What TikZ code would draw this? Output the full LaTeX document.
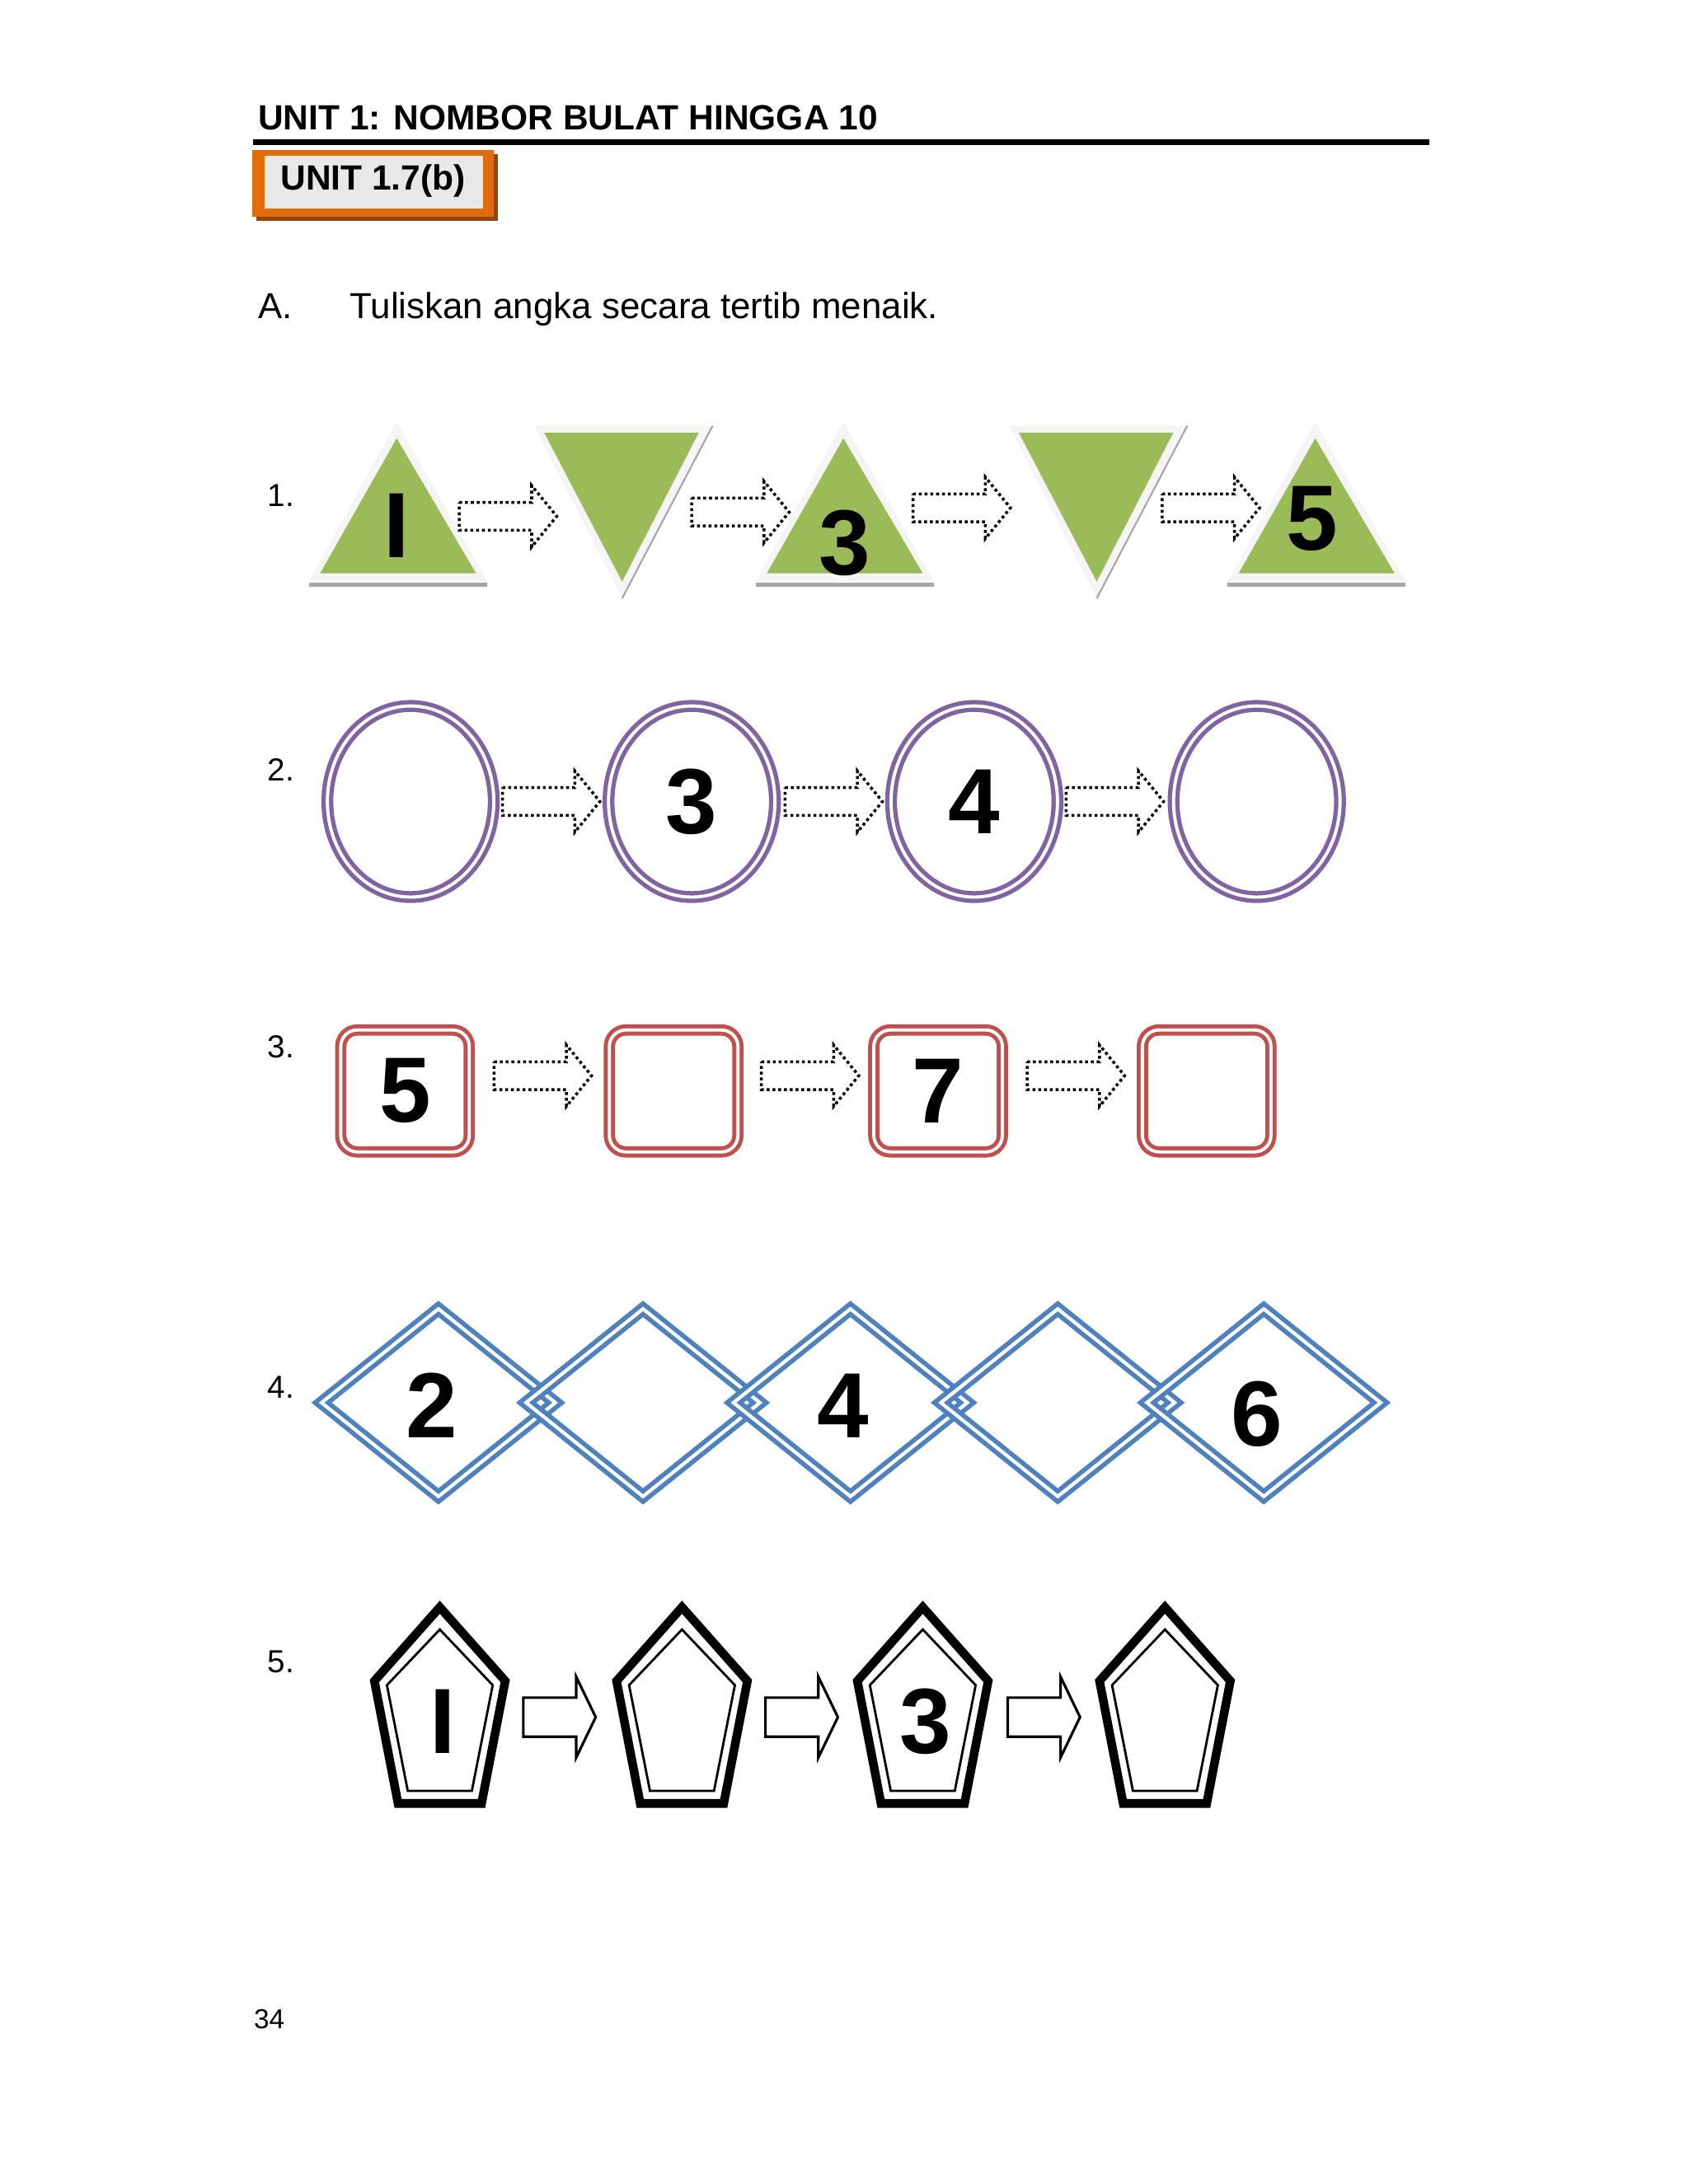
\documentclass[tikz,border=0pt]{standalone}
\usepackage{fontspec}
\setmainfont{Liberation Sans}
\usetikzlibrary{shapes.geometric, positioning}
\definecolor{leaf}{HTML}{9BBB59}
\definecolor{plum}{HTML}{8064A2}
\definecolor{brick}{HTML}{C0504D}
\definecolor{sky}{HTML}{4F81BD}
\definecolor{unitorange}{HTML}{E36C0A}
\newcommand{\dotarrow}[2]{\draw[DotArrow] (#1,#2) ++(0,-10) -- ++(52,0) -- ++(0,-12) -- ++(18,22) -- ++(-18,22) -- ++(0,-12) -- ++(-52,0) -- cycle;}
\newcommand{\blockarrow}[2]{\draw[BlockArrow] (#1,#2) ++(0,-14) -- ++(38,0) -- ++(0,-15) -- ++(14,29) -- ++(-14,29) -- ++(0,-15) -- ++(-38,0) -- cycle;}
\newcommand{\uptri}[1]{%
  \fill[gray!8] (#1-63,418) -- (#1+65,418) -- (#1,303) -- cycle;
  \fill[leaf] (#1-55,412) -- (#1+57,412) -- (#1,315) -- cycle;
  \draw[gray!70, line width=1.5] (#1-63,420) -- (#1+65,420);}
\newcommand{\downtri}[1]{%
  \fill[gray!8] (#1-63,306) -- (#1+65,306) -- (#1,430) -- cycle;
  \fill[leaf] (#1-56,311) -- (#1+55,311) -- (#1,418) -- cycle;
  \draw[gray!70, line width=0.6] (#1+65,306) -- (#1,430);}
\newcommand{\penta}[1]{%
  \draw[line width=3pt, line join=miter] (#1,1155) -- (#1+47,1208) -- (#1+30,1296) -- (#1-30,1296) -- (#1-47,1208) -- cycle;
  \draw[line width=0.8pt] (#1,1171) -- (#1+38,1211) -- (#1+23,1287) -- (#1-23,1287) -- (#1-38,1211) -- cycle;}
\begin{document}
\begin{tikzpicture}
  [
    x=0.016884cm, y=-0.016884cm,
    Num/.style={font=\bfseries\fontsize{32}{34}\selectfont, inner sep=0pt},
    Item/.style={font=\fontsize{11}{13}\selectfont, anchor=base west},
    DotArrow/.style={densely dotted, line width=1pt},
    BlockArrow/.style={line width=0.9pt},
    Ring/.style={ellipse, draw=plum, line width=1.5pt, double=white, double distance=1.1pt,
      minimum width=2.02cm, minimum height=2.32cm, inner sep=0pt},
    Box/.style={rectangle, rounded corners=0.2cm, draw=brick, line width=1.4pt, double=white,
      double distance=1.1pt, minimum width=1.56cm, minimum height=1.48cm, inner sep=0pt},
    Gem/.style={diamond, draw=sky, line width=1.6pt, double=white, double distance=1.2pt,
      minimum width=2.86cm, minimum height=2.3cm, inner sep=0pt}
  ]
  \useasboundingbox[fill=white] (0,0) rectangle (1213,1569.5);
  % Header
  \node[anchor=base west, font=\bfseries\fontsize{12.1}{14}\selectfont, inner sep=0pt] (title) at (185,93) {UNIT 1: NOMBOR BULAT HINGGA 10};
  \draw[line width=2pt] (182,102) -- (1027,102);
  \fill[unitorange!65!black] (184,111) rectangle (358,159);
  \fill[unitorange] (181,108) rectangle (355,156);
  \fill[gray!18] (190,112) rectangle (347,150);
  \node[font=\bfseries\fontsize{12.1}{14}\selectfont] (unit) at (268,130) {UNIT 1.7(b)};
  \node[anchor=base west, font=\fontsize{12.5}{14}\selectfont, inner sep=0pt] (qa) at (185,229) {A.};
  \node[anchor=base west, font=\fontsize{12.5}{14}\selectfont, inner sep=0pt] (qtext) at (251,229) {Tuliskan angka secara tertib menaik.};
  % Row labels
  \node[Item] (r1) at (185,364) {1.};
  \node[Item] (r2) at (185,561) {2.};
  \node[Item] (r3) at (185,760) {3.};
  \node[Item] (r4) at (185,1005) {4.};
  \node[Item] (r5) at (185,1202) {5.};
  % Row 1
  \uptri{285} \downtri{447} \uptri{606} \downtri{788} \uptri{945}
  \node[Num] (t1) at (285,378) {I};
  \node[Num] (t3) at (607,390) {3};
  \node[Num] (t5) at (943,373) {5};
  \dotarrow{330}{371} \dotarrow{497}{368} \dotarrow{656}{365} \dotarrow{835}{365}
  % Row 2
  \node[Ring] (c1) at (295,576) {};
  \node[Ring] (c2) at (497,576) {\raisebox{-6pt}{\bfseries\fontsize{32}{34}\selectfont 3}};
  \node[Ring] (c3) at (700,576) {\bfseries\fontsize{32}{34}\selectfont 4};
  \node[Ring] (c4) at (903,576) {};
  \dotarrow{361}{576} \dotarrow{564}{576} \dotarrow{766}{576}
  % Row 3
  \node[Box] (s1) at (291,784) {\raisebox{-3pt}{\bfseries\fontsize{32}{34}\selectfont 5}};
  \node[Box] (s2) at (484,784) {};
  \node[Box] (s3) at (674,784) {\raisebox{-3pt}{\bfseries\fontsize{32}{34}\selectfont 7}};
  \node[Box] (s4) at (867,784) {};
  \dotarrow{355}{773} \dotarrow{547}{773} \dotarrow{738}{773}
  % Row 4
  \node[Gem] (d1) at (315,1008) {};
  \node[Gem] (d2) at (462,1008) {};
  \node[Gem] (d3) at (611,1008) {};
  \node[Gem] (d4) at (760,1008) {};
  \node[Gem] (d5) at (908,1008) {};
  \node[Num] (n2) at (310,1010) {2};
  \node[Num] (n4) at (606,1010) {4};
  \node[Num] (n6) at (903,1016) {6};
  % Row 5
  \penta{316} \penta{490} \penta{663} \penta{837}
  \node[Num] (p1) at (318,1237) {I};
  \node[Num] (p3) at (665,1237) {3};
  \blockarrow{376}{1234} \blockarrow{550}{1234} \blockarrow{724}{1234}
  % Page number
  \node[anchor=base west, font=\fontsize{9.5}{11}\selectfont, inner sep=0pt] (page) at (182,1458) {34};
\end{tikzpicture}
\end{document}
